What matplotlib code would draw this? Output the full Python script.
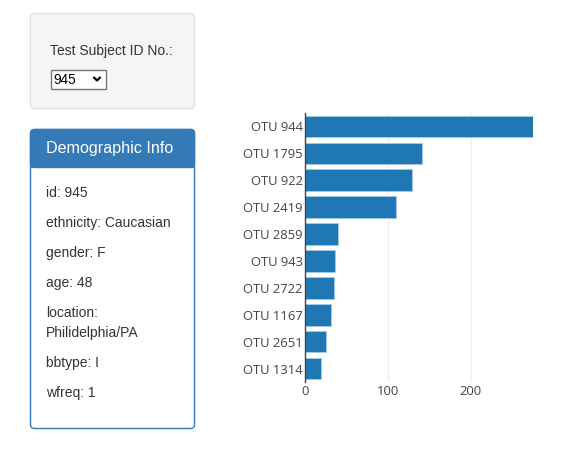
import matplotlib
matplotlib.use('Agg')
import matplotlib.pyplot as plt
from matplotlib.patches import FancyBboxPatch, Rectangle

# 数据
otu_labels = ['OTU 944', 'OTU 1795', 'OTU 922', 'OTU 2419', 'OTU 2859',
              'OTU 943', 'OTU 2722', 'OTU 1167', 'OTU 2651', 'OTU 1314']
sample_values = [275, 141, 129, 110, 40, 37, 35, 32, 26, 20]
x_ticks = [0, 100, 200]

subject_id = '945'
demo_lines = ['id: 945', 'ethnicity: Caucasian', 'gender: F', 'age: 48',
              'location:', 'Philidelphia/PA', 'bbtype: I', 'wfreq: 1']
demo_y = [193, 223, 253, 283, 313, 333, 363, 393]

W, H = 568, 458
fig = plt.figure(figsize=(W / 100, H / 100), dpi=100)

# 背景层, 单位是像素
bg = fig.add_axes([0, 0, 1, 1])
bg.set_xlim(0, W)
bg.set_ylim(H, 0)
bg.axis('off')

panel_font = 'Liberation Sans'

# 选择框面板
bg.add_patch(FancyBboxPatch((30.5, 13.5), 164, 95, boxstyle='round,pad=0,rounding_size=4',
                            facecolor='#f5f5f5', edgecolor='#e3e3e3', lw=1))
bg.text(50, 51, 'Test Subject ID No.:', fontsize=10, family=panel_font,
        color='#333333', va='center', ha='left')
bg.add_patch(Rectangle((50.5, 69.5), 55, 19, facecolor='white', edgecolor='#767676', lw=1))
bg.text(53, 80, subject_id, fontsize=9.8, family=panel_font, color='#000000',
        va='center', ha='left')
bg.plot([94, 97, 100], [77.5, 80.5, 77.5], color='#000000', lw=1.6, solid_capstyle='round')

# 人口信息面板
bg.add_patch(FancyBboxPatch((30.5, 129.5), 164, 299, boxstyle='round,pad=0,rounding_size=4',
                            facecolor='white', edgecolor='#337ab7', lw=1))
bg.add_patch(FancyBboxPatch((30.5, 129.5), 164, 38, boxstyle='round,pad=0,rounding_size=4',
                            facecolor='#337ab7', edgecolor='#337ab7', lw=1))
bg.add_patch(Rectangle((30.5, 155), 164, 12.5, facecolor='#337ab7', edgecolor='none'))
bg.text(46, 148.5, 'Demographic Info', fontsize=11.6, family=panel_font,
        color='white', va='center', ha='left')
for line, y in zip(demo_lines, demo_y):
    bg.text(46, y, line, fontsize=10, family=panel_font, color='#333333',
            va='center', ha='left')

# 条形图
ax = fig.add_axes([304.7 / W, 1 - 382 / H, (533 - 304.7) / W, (382 - 113) / H])
ypos = list(range(len(otu_labels)))
ax.barh(ypos, sample_values, height=0.8, color='#1f77b4',
        edgecolor='#a6cbe8', linewidth=0.6, zorder=2)
ax.set_yticks(ypos)
ax.set_yticklabels(otu_labels, family='Open Sans', fontsize=9.4, color='#444444')
ax.set_ylim(len(otu_labels) - 0.5, -0.5)
ax.set_xlim(0, 275)
ax.set_xticks(x_ticks)
ax.set_xticklabels([str(t) for t in x_ticks], family='Open Sans', fontsize=9.4, color='#444444')
ax.tick_params(axis='both', length=0)
ax.tick_params(axis='y', pad=1.5)
ax.tick_params(axis='x', pad=2)
ax.grid(axis='x', color='#eeeeee', lw=1, zorder=0)
for s in ['top', 'right', 'bottom']:
    ax.spines[s].set_visible(False)
ax.spines['left'].set_color('#444444')
ax.spines['left'].set_linewidth(1)
ax.spines['left'].set_zorder(3)
ax.set_facecolor('none')

fig.savefig('out.png', dpi=100)
plt.close(fig)
